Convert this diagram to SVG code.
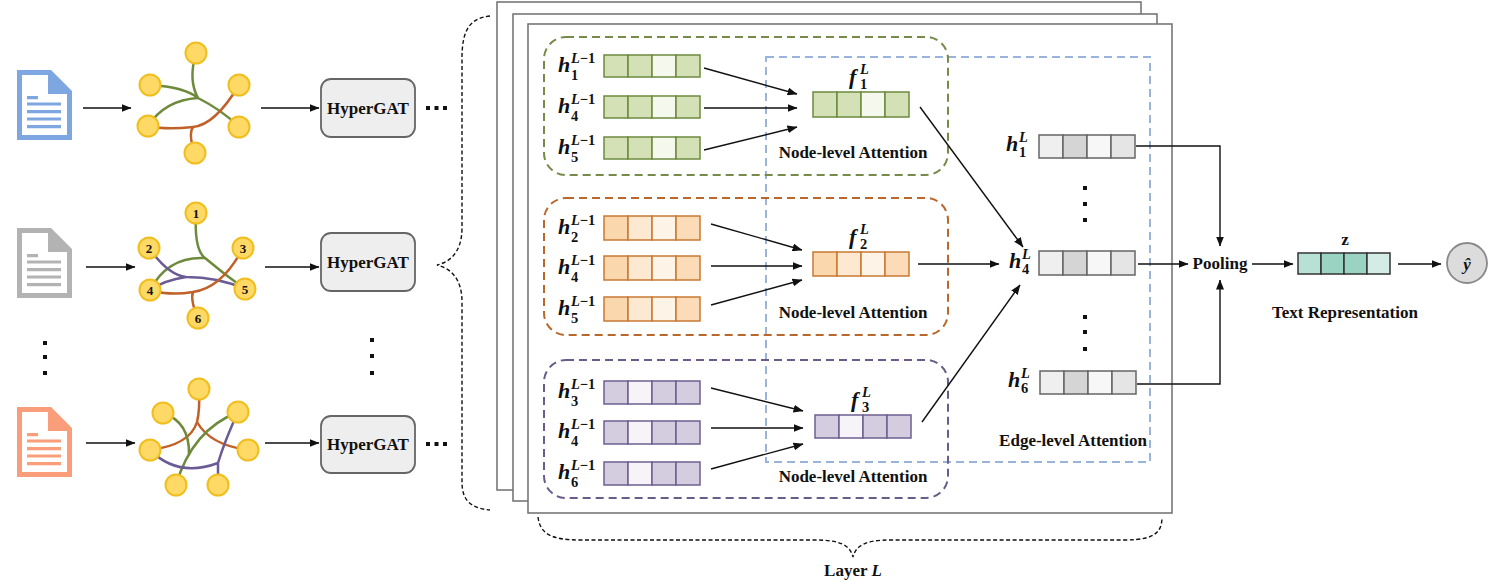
<svg xmlns="http://www.w3.org/2000/svg" xmlns:xlink="http://www.w3.org/1999/xlink" width="1491" height="580" viewBox="0 0 1491 580">
<style>
.t{font-family:"Liberation Serif","Times New Roman",serif;font-weight:bold;font-size:17px;fill:#111}
.mi{font-family:"Liberation Serif","Times New Roman",serif;font-weight:bold;font-style:italic;font-size:22px;fill:#111}
.ms{font-family:"Liberation Serif","Times New Roman",serif;font-weight:bold;font-size:14.5px;fill:#111}
.num{font-family:"Liberation Serif","Times New Roman",serif;font-weight:bold;font-size:13px;fill:#111;text-anchor:middle}
.frame{fill:#fff;stroke:#777;stroke-width:1.6}
.hg{fill:#eeeeee;stroke:#666;stroke-width:1.8}
.nd{fill:#ffd966;stroke:#f0be1e;stroke-width:2}
.eg{fill:none;stroke:#6e8b3d;stroke-width:2.5}
.eo{fill:none;stroke:#c0612a;stroke-width:2.5}
.ep{fill:none;stroke:#6b5b95;stroke-width:2.5}
.arr{fill:none;stroke:#111;stroke-width:1.4;marker-end:url(#ah)}
.brace{fill:none;stroke:#111;stroke-width:1.4;stroke-dasharray:4 2.5}
.bg{fill:none;stroke:#768a4a;stroke-width:2;stroke-dasharray:8 5}
.bo{fill:none;stroke:#b9672a;stroke-width:2;stroke-dasharray:8 5}
.bp{fill:none;stroke:#6a5c8a;stroke-width:2;stroke-dasharray:8 5}
.bb{fill:none;stroke:#9ab3db;stroke-width:2;stroke-dasharray:8 5}
.cg{stroke:#6c8a3f;stroke-width:1.5}
.co{stroke:#c87933;stroke-width:1.5}
.cp{stroke:#6e5f90;stroke-width:1.5}
.cy{stroke:#666;stroke-width:1.5}
.cz{stroke:#333;stroke-width:1.5}
.dot{fill:#111}
</style>
<defs>
<marker id="ah" markerUnits="userSpaceOnUse" markerWidth="10" markerHeight="8" refX="9.5" refY="4" orient="auto">
<path d="M0,0 L10,4 L0,8 Z" fill="#111"/>
</marker>
<g id="doc">
<path d="M2.5,2.5 H33 L52.5,22 V67.5 H2.5 Z" fill="#fff" stroke="currentColor" stroke-width="5"/>
<path d="M31,2.5 V24 H52.5 Z" fill="currentColor"/>
<path d="M10,27.7 H21 M10,34 H44 M10,41.7 H44 M10,49 H44 M10,56.7 H44" stroke="currentColor" stroke-width="3.2"/>
</g>
</defs>

<g id="documents">
<use xlink:href="#doc" href="#doc" x="17" y="70" color="#7ea6e0"/>
<use xlink:href="#doc" href="#doc" x="17" y="228" color="#b3b3b3"/>
<use xlink:href="#doc" href="#doc" x="17" y="407" color="#fa9d7b"/>
<rect class="dot" x="43" y="341" width="4" height="4"/>
<rect class="dot" x="43" y="355" width="4" height="4"/>
<rect class="dot" x="43" y="371" width="4" height="4"/>
</g>

<g id="hypergraph1">
<path class="eg" d="M150,85 Q185,87 198,98 Q222,110 239,127"/>
<path class="eg" d="M148,126 Q165,100 198,98"/>
<path class="eg" d="M196,53 Q188,80 198,98"/>
<path class="eo" d="M239,85 Q215,125 193,127 Q165,130 148,126"/>
<path class="eo" d="M195,153 Q188,135 193,127"/>
<circle class="nd" cx="196" cy="53" r="10.5"/>
<circle class="nd" cx="150" cy="85" r="10.5"/>
<circle class="nd" cx="239" cy="85" r="10.5"/>
<circle class="nd" cx="148" cy="126" r="10.5"/>
<circle class="nd" cx="239" cy="127" r="10.5"/>
<circle class="nd" cx="195" cy="153" r="10.5"/>
</g>

<g id="hypergraph2">
<path class="eg" d="M196,213 Q194,250 205,258 Q225,275 245,289"/>
<path class="eg" d="M150,290 Q168,256 205,258"/>
<path class="ep" d="M149,248 Q168,275 186,277 Q218,277 245,289"/>
<path class="ep" d="M150,290 Q165,280 186,277"/>
<path class="eo" d="M243,248 Q222,288 193,292 Q170,296 150,290"/>
<path class="eo" d="M198,318 Q190,300 193,292"/>
<circle class="nd" cx="196" cy="213" r="10.5"/>
<circle class="nd" cx="149" cy="248" r="10.5"/>
<circle class="nd" cx="243" cy="248" r="10.5"/>
<circle class="nd" cx="150" cy="290" r="10.5"/>
<circle class="nd" cx="245" cy="289" r="10.5"/>
<circle class="nd" cx="198" cy="318" r="10.5"/>
<text class="num" x="196" y="217.5">1</text>
<text class="num" x="149" y="252.5">2</text>
<text class="num" x="243" y="252.5">3</text>
<text class="num" x="150" y="294.5">4</text>
<text class="num" x="245" y="293.5">5</text>
<text class="num" x="198" y="322.5">6</text>
</g>

<g id="hypergraph3">
<path class="eo" d="M199,389 Q200,410 197,422"/>
<path class="eo" d="M197,422 Q190,445 150,450"/>
<path class="eo" d="M197,422 Q210,445 248,450"/>
<path class="eg" d="M238,412 Q192,430 176,485"/>
<path class="eg" d="M163,413 Q190,422 189,455"/>
<path class="ep" d="M150,450 Q178,478 218,463"/>
<path class="ep" d="M238,412 Q225,440 218,463 L218,485"/>
<circle class="nd" cx="199" cy="389" r="10.5"/>
<circle class="nd" cx="163" cy="413" r="10.5"/>
<circle class="nd" cx="238" cy="412" r="10.5"/>
<circle class="nd" cx="150" cy="450" r="10.5"/>
<circle class="nd" cx="248" cy="450" r="10.5"/>
<circle class="nd" cx="176" cy="485" r="10.5"/>
<circle class="nd" cx="218" cy="485" r="10.5"/>
</g>

<g id="hypergat1">
<rect class="hg" x="321" y="79" width="94" height="58" rx="10"/>
<text class="t" x="368" y="114" text-anchor="middle">HyperGAT</text>
<rect class="dot" x="426" y="106" width="4" height="4"/>
<rect class="dot" x="434.5" y="106" width="4" height="4"/>
<rect class="dot" x="443" y="106" width="4" height="4"/>
</g>
<g id="hypergat2">
<rect class="hg" x="321" y="233" width="94" height="58" rx="10"/>
<text class="t" x="368" y="268" text-anchor="middle">HyperGAT</text>
</g>
<g id="hypergat3">
<rect class="hg" x="321" y="416" width="94" height="57" rx="10"/>
<text class="t" x="368" y="450" text-anchor="middle">HyperGAT</text>
<rect class="dot" x="426" y="442" width="4" height="4"/>
<rect class="dot" x="434.5" y="442" width="4" height="4"/>
<rect class="dot" x="443" y="442" width="4" height="4"/>
<rect class="dot" x="370" y="338" width="4" height="4"/>
<rect class="dot" x="370" y="354" width="4" height="4"/>
<rect class="dot" x="370" y="371" width="4" height="4"/>
</g>

<g id="braces">
<path class="brace" d="M490,16 C470,18 462,30 462,58 L462,228 C462,252 450,262 437,265 C450,268 462,278 462,302 L462,482 C462,500 470,508 490,510"/>
<path class="brace" d="M538,517 C540,533 550,540 580,540 L815,540 C840,540 850,545 853,557 C856,545 866,540 891,540 L1125,540 C1155,540 1162,532 1162,517"/>
<text class="t" x="853" y="576" font-size="16" text-anchor="middle">Layer <tspan font-style="italic">L</tspan></text>
</g>

<g id="layer-frames">
<rect class="frame" x="497" y="2" width="644" height="488"/>
<rect class="frame" x="513" y="14" width="644" height="487"/>
<rect class="frame" x="528" y="24" width="644" height="489"/>
</g>

<g id="edge-attention">
<rect class="bb" x="766" y="57" width="384" height="405"/>
<text class="t" x="1073" y="446" text-anchor="middle">Edge-level Attention</text>
</g>

<g id="node-attention-1">
<rect class="bg" x="544" y="37" width="404" height="138" rx="22"/>
<g fill="#d4e1b7" class="cg">
<rect x="604" y="55" width="24" height="22"/><rect x="628" y="55" width="24" height="22"/><rect x="652" y="55" width="24" height="22" fill="#f5f8ed"/><rect x="676" y="55" width="24" height="22"/>
<rect x="604" y="96" width="24" height="22"/><rect x="628" y="96" width="24" height="22"/><rect x="652" y="96" width="24" height="22" fill="#f5f8ed"/><rect x="676" y="96" width="24" height="22"/>
<rect x="604" y="137" width="24" height="22"/><rect x="628" y="137" width="24" height="22"/><rect x="652" y="137" width="24" height="22" fill="#f5f8ed"/><rect x="676" y="137" width="24" height="22"/>
<rect x="813" y="92" width="24" height="25"/><rect x="837" y="92" width="24" height="25"/><rect x="861" y="92" width="24" height="25" fill="#f5f8ed"/><rect x="885" y="92" width="24" height="25"/>
</g>
<text class="mi" x="558" y="72">h</text><text class="ms" x="571" y="63"><tspan font-style="italic">L</tspan>−1</text><text class="ms" x="571" y="80">1</text>
<text class="mi" x="558" y="113">h</text><text class="ms" x="571" y="104"><tspan font-style="italic">L</tspan>−1</text><text class="ms" x="571" y="121">4</text>
<text class="mi" x="558" y="154">h</text><text class="ms" x="571" y="145"><tspan font-style="italic">L</tspan>−1</text><text class="ms" x="571" y="162">5</text>
<text class="mi" x="849" y="84">f</text><text class="ms" x="860" y="74" font-style="italic">L</text><text class="ms" x="860" y="89">1</text>
<text class="t" x="853" y="158" text-anchor="middle">Node-level Attention</text>
</g>

<g id="node-attention-2">
<rect class="bo" x="544" y="198" width="404" height="137" rx="22"/>
<g class="co">
<rect x="604" y="216" width="24" height="24" fill="#fbd7ae"/><rect x="628" y="216" width="24" height="24" fill="#fde8d1"/><rect x="652" y="216" width="24" height="24" fill="#fef3e7"/><rect x="676" y="216" width="24" height="24" fill="#fbdbb8"/>
<rect x="604" y="256" width="24" height="24" fill="#fbd7ae"/><rect x="628" y="256" width="24" height="24" fill="#fde8d1"/><rect x="652" y="256" width="24" height="24" fill="#fef3e7"/><rect x="676" y="256" width="24" height="24" fill="#fbdbb8"/>
<rect x="604" y="297" width="24" height="24" fill="#fbd7ae"/><rect x="628" y="297" width="24" height="24" fill="#fde8d1"/><rect x="652" y="297" width="24" height="24" fill="#fef3e7"/><rect x="676" y="297" width="24" height="24" fill="#fbdbb8"/>
<rect x="813" y="252" width="24" height="24" fill="#fbd7ae"/><rect x="837" y="252" width="24" height="24" fill="#fde8d1"/><rect x="861" y="252" width="24" height="24" fill="#fef3e7"/><rect x="885" y="252" width="24" height="24" fill="#fbdbb8"/>
</g>
<text class="mi" x="558" y="234">h</text><text class="ms" x="571" y="225"><tspan font-style="italic">L</tspan>−1</text><text class="ms" x="571" y="242">2</text>
<text class="mi" x="558" y="274">h</text><text class="ms" x="571" y="265"><tspan font-style="italic">L</tspan>−1</text><text class="ms" x="571" y="282">4</text>
<text class="mi" x="558" y="315">h</text><text class="ms" x="571" y="306"><tspan font-style="italic">L</tspan>−1</text><text class="ms" x="571" y="323">5</text>
<text class="mi" x="849" y="244">f</text><text class="ms" x="860" y="234" font-style="italic">L</text><text class="ms" x="860" y="249">2</text>
<text class="t" x="853" y="318" text-anchor="middle">Node-level Attention</text>
</g>

<g id="node-attention-3">
<rect class="bp" x="544" y="360" width="404" height="138" rx="22"/>
<g class="cp" fill="#d4cde0">
<rect x="604" y="381" width="24" height="23"/><rect x="628" y="381" width="24" height="23" fill="#f6f4f9"/><rect x="652" y="381" width="24" height="23"/><rect x="676" y="381" width="24" height="23"/>
<rect x="604" y="421" width="24" height="23"/><rect x="628" y="421" width="24" height="23" fill="#f6f4f9"/><rect x="652" y="421" width="24" height="23"/><rect x="676" y="421" width="24" height="23"/>
<rect x="604" y="462" width="24" height="23"/><rect x="628" y="462" width="24" height="23" fill="#f6f4f9"/><rect x="652" y="462" width="24" height="23"/><rect x="676" y="462" width="24" height="23"/>
<rect x="815" y="415" width="24" height="23"/><rect x="839" y="415" width="24" height="23" fill="#f6f4f9"/><rect x="863" y="415" width="24" height="23"/><rect x="887" y="415" width="24" height="23"/>
</g>
<text class="mi" x="558" y="398">h</text><text class="ms" x="571" y="389"><tspan font-style="italic">L</tspan>−1</text><text class="ms" x="571" y="406">3</text>
<text class="mi" x="558" y="438">h</text><text class="ms" x="571" y="429"><tspan font-style="italic">L</tspan>−1</text><text class="ms" x="571" y="446">4</text>
<text class="mi" x="558" y="479">h</text><text class="ms" x="571" y="470"><tspan font-style="italic">L</tspan>−1</text><text class="ms" x="571" y="487">6</text>
<text class="mi" x="851" y="407">f</text><text class="ms" x="862" y="397" font-style="italic">L</text><text class="ms" x="862" y="412">3</text>
<text class="t" x="853" y="482" text-anchor="middle">Node-level Attention</text>
</g>

<g id="hyperedge-outputs">
<g class="cy">
<rect x="1039" y="135" width="24" height="23" fill="#efefef"/><rect x="1063" y="135" width="24" height="23" fill="#d5d5d5"/><rect x="1087" y="135" width="24" height="23" fill="#f7f7f7"/><rect x="1111" y="135" width="24" height="23" fill="#e5e5e5"/>
<rect x="1039" y="251" width="24" height="24" fill="#efefef"/><rect x="1063" y="251" width="24" height="24" fill="#d5d5d5"/><rect x="1087" y="251" width="24" height="24" fill="#f7f7f7"/><rect x="1111" y="251" width="24" height="24" fill="#e5e5e5"/>
<rect x="1040" y="371" width="24" height="23" fill="#efefef"/><rect x="1064" y="371" width="24" height="23" fill="#d5d5d5"/><rect x="1088" y="371" width="24" height="23" fill="#f7f7f7"/><rect x="1112" y="371" width="24" height="23" fill="#e5e5e5"/>
</g>
<text class="mi" x="1006" y="151">h</text><text class="ms" x="1019" y="142" font-style="italic">L</text><text class="ms" x="1019" y="157">1</text>
<text class="mi" x="1009" y="268">h</text><text class="ms" x="1022" y="259" font-style="italic">L</text><text class="ms" x="1022" y="274">4</text>
<text class="mi" x="1008" y="387">h</text><text class="ms" x="1021" y="378" font-style="italic">L</text><text class="ms" x="1021" y="393">6</text>
<rect class="dot" x="1083" y="186" width="4" height="4"/>
<rect class="dot" x="1083" y="202" width="4" height="4"/>
<rect class="dot" x="1083" y="218" width="4" height="4"/>
<rect class="dot" x="1083" y="315" width="4" height="4"/>
<rect class="dot" x="1083" y="330" width="4" height="4"/>
<rect class="dot" x="1083" y="347" width="4" height="4"/>
</g>

<g id="pooling">
<text class="t" x="1220" y="269" text-anchor="middle">Pooling</text>
</g>

<g id="text-representation">
<g class="cz">
<rect x="1298" y="253" width="23" height="21" fill="#b8e1d5"/><rect x="1321" y="253" width="23" height="21" fill="#9bd3c2"/><rect x="1344" y="253" width="23" height="21" fill="#9bd3c2"/><rect x="1367" y="253" width="23" height="21" fill="#d3ece5"/>
</g>
<text class="t" x="1345" y="245" text-anchor="middle">z</text>
<text class="t" x="1345" y="318" text-anchor="middle">Text Representation</text>
</g>

<g id="output">
<circle cx="1467" cy="263" r="20" fill="#dcdcdc" stroke="#888" stroke-width="1.8"/>
<text class="t" x="1467" y="270" text-anchor="middle" font-style="italic" font-size="20">ŷ</text>
</g>

<g id="connectors">
<path class="arr" d="M83,108 H131"/>
<path class="arr" d="M86,267 H135"/>
<path class="arr" d="M86,443 H135"/>
<path class="arr" d="M261,108 H319"/>
<path class="arr" d="M265,267 H319"/>
<path class="arr" d="M265,443 H319"/>
<path class="arr" d="M704,68 L797,94"/>
<path class="arr" d="M704,108 H797"/>
<path class="arr" d="M704,150 L797,127"/>
<path class="arr" d="M711,224 L802,250"/>
<path class="arr" d="M711,266 H802"/>
<path class="arr" d="M711,305 L802,280"/>
<path class="arr" d="M711,388 L803,411"/>
<path class="arr" d="M711,428 H803"/>
<path class="arr" d="M711,469 L803,444"/>
<path class="arr" d="M920,107 L1023,247"/>
<path class="arr" d="M918,264 H999"/>
<path class="arr" d="M922,422 L1020,285"/>
<path class="arr" d="M1136,146 H1220 V246"/>
<path class="arr" d="M1138,264 H1188"/>
<path class="arr" d="M1137,384 H1220 V280"/>
<path class="arr" d="M1252,264 H1293"/>
<path class="arr" d="M1398,264 H1441"/>
</g>
</svg>
